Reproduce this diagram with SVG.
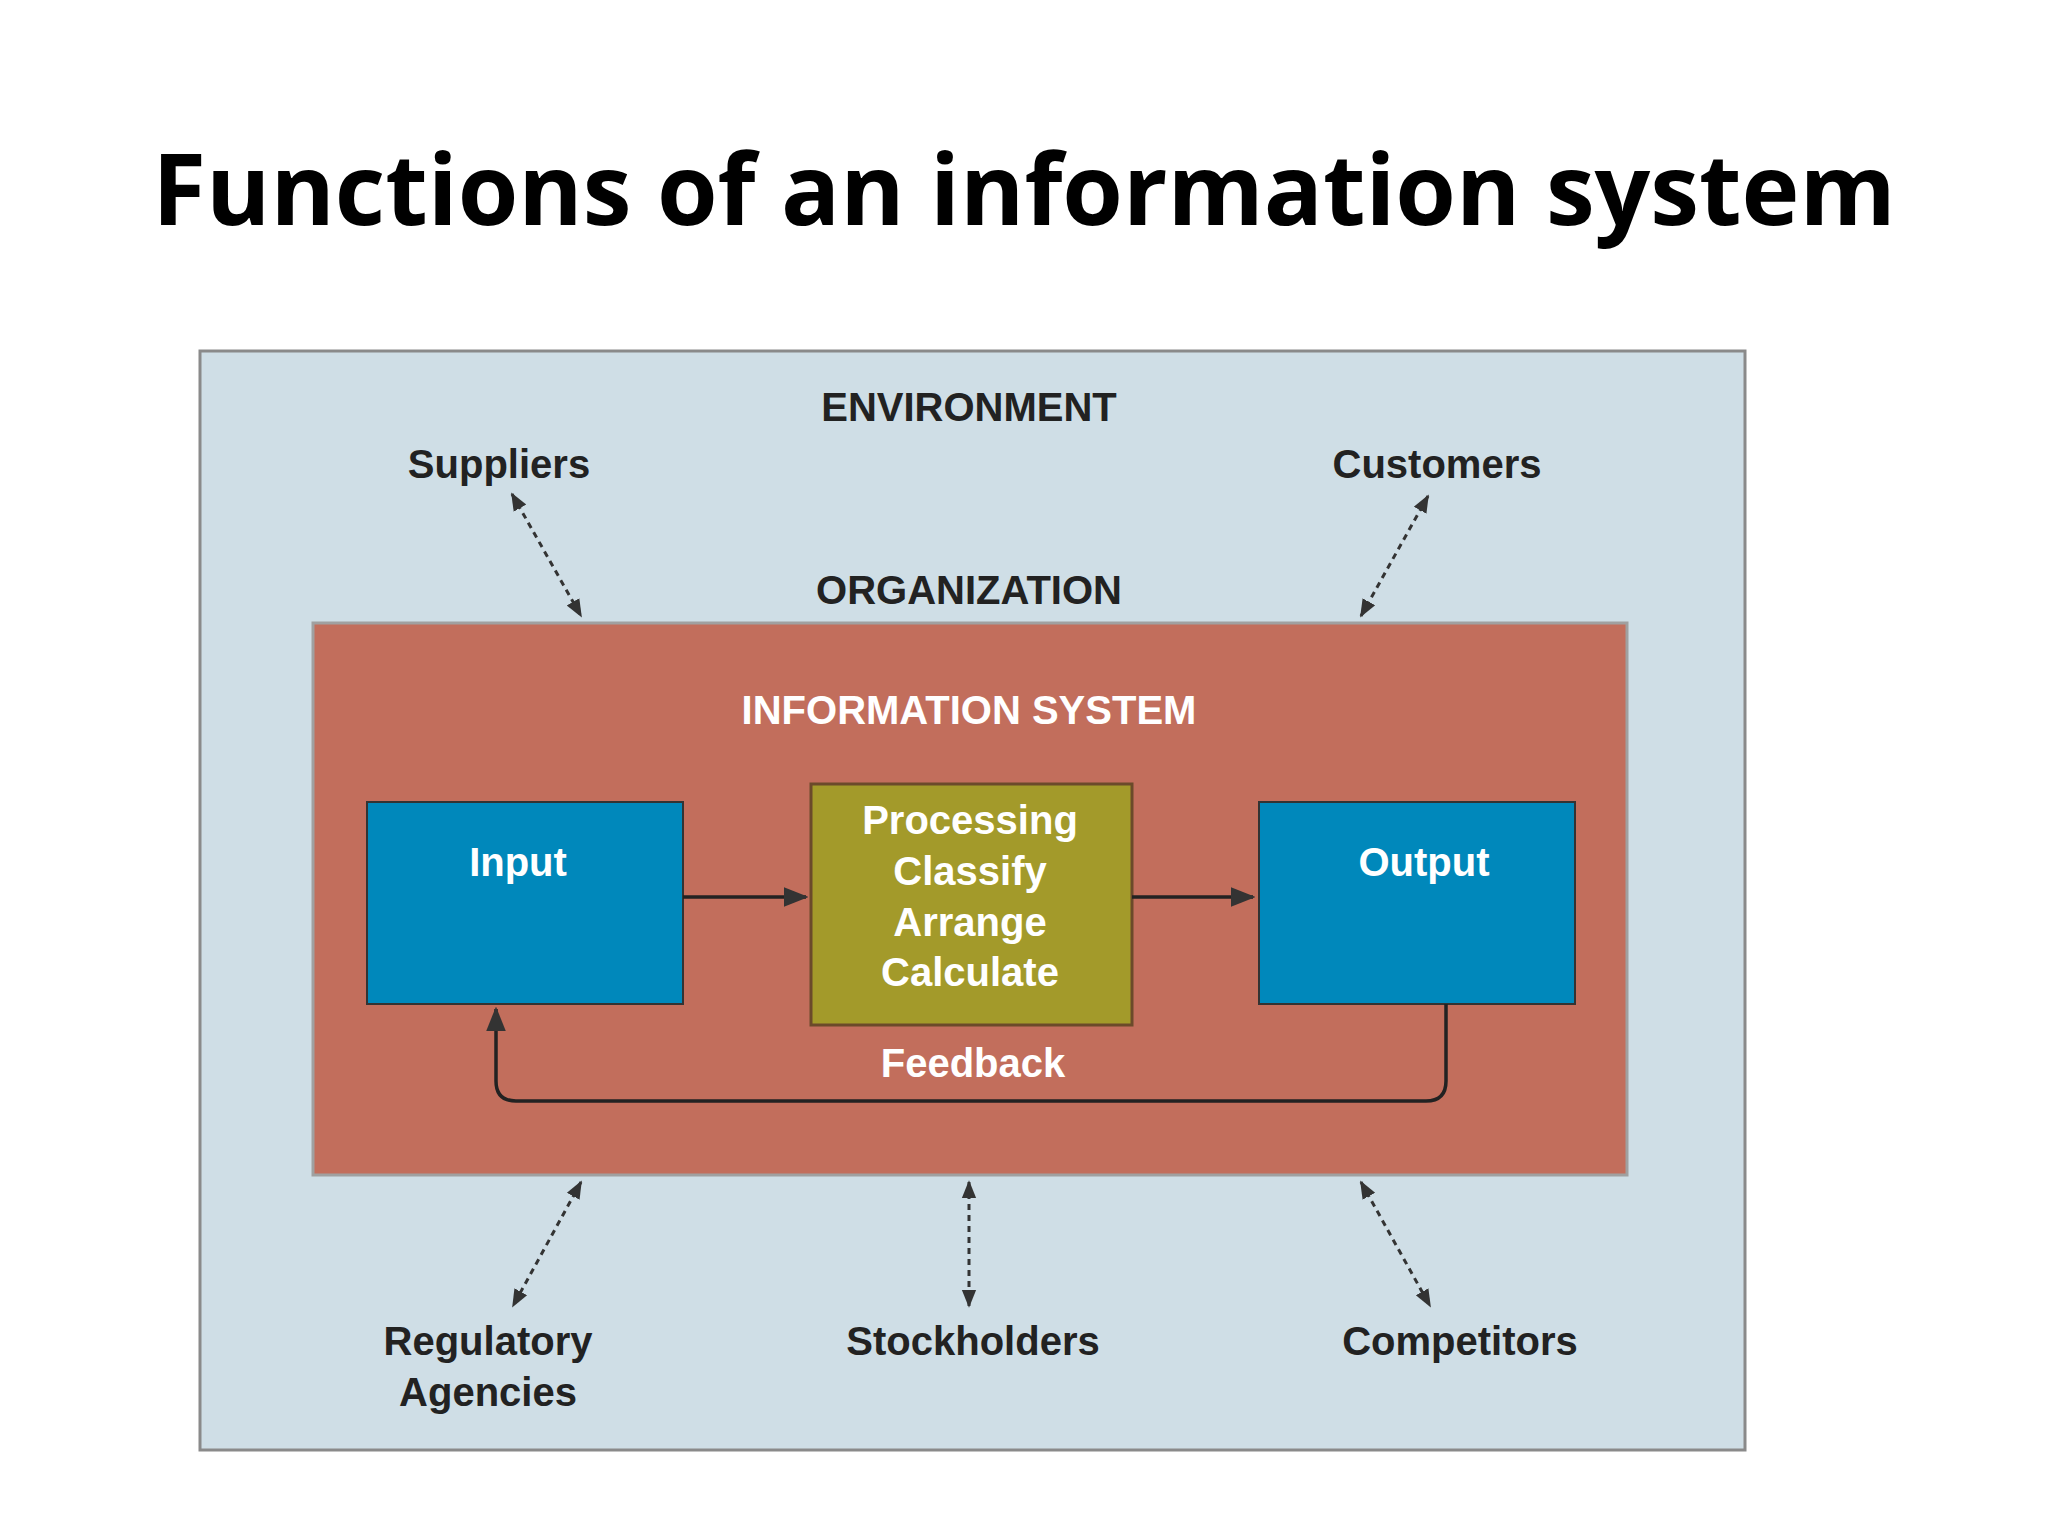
<svg xmlns="http://www.w3.org/2000/svg" width="2048" height="1536" viewBox="0 0 2048 1536">
<defs>
<style>
.t{font-family:"Liberation Sans",Arial,sans-serif;font-weight:bold;font-size:40px;text-anchor:middle;fill:#222}
.w{fill:#fff}
.d{stroke:#333;stroke-width:3;stroke-dasharray:6 5;fill:none;marker-start:url(#a);marker-end:url(#a)}
.s{stroke:#222;stroke-width:3.5;fill:none}
</style>
<marker id="a" viewBox="0 0 10 10" refX="9" refY="5" markerWidth="6" markerHeight="6" orient="auto-start-reverse"><path d="M0,1 L10,5 L0,9 z" fill="#333"/></marker>
<marker id="b" viewBox="0 0 10 10" refX="9" refY="5" markerWidth="7" markerHeight="7" orient="auto"><path d="M0,1 L10,5 L0,9 z" fill="#333"/></marker>
</defs>
<rect width="2048" height="1536" fill="#fff"/>
<text x="1024" y="225" font-family="'Open Sans','Noto Sans',sans-serif" font-weight="bold" font-size="98" text-anchor="middle" fill="#000">Functions of an information system</text>
<g id="environment"><rect x="200" y="351" width="1545" height="1099" fill="#cfdee6" stroke="#8a8a8a" stroke-width="3"/><text class="t" x="969" y="421">ENVIRONMENT</text></g>
<g id="organization"><text class="t" x="969" y="604">ORGANIZATION</text><rect x="313" y="623" width="1314" height="552" fill="#c26e5c" stroke="#a0a0a0" stroke-width="3"/><text class="t w" x="969" y="724">INFORMATION SYSTEM</text></g>
<g id="input"><rect x="367" y="802" width="316" height="202" fill="#0088bb" stroke="#333" stroke-width="2"/><text class="t w" x="518" y="876">Input</text></g>
<g id="processing"><rect x="811" y="784" width="321" height="241" fill="#a39a2a" stroke="#6b4a2a" stroke-width="3"/><text class="t w" x="970" y="834">Processing</text><text class="t w" x="970" y="885">Classify</text><text class="t w" x="970" y="936">Arrange</text><text class="t w" x="970" y="986">Calculate</text></g>
<g id="output"><rect x="1259" y="802" width="316" height="202" fill="#0088bb" stroke="#333" stroke-width="2"/><text class="t w" x="1424" y="876">Output</text></g>
<g id="labels">
<text class="t" x="499" y="478">Suppliers</text>
<text class="t" x="1437" y="478">Customers</text>
<text class="t w" x="973" y="1077">Feedback</text>
<text class="t" x="488" y="1355">Regulatory</text><text class="t" x="488" y="1406">Agencies</text>
<text class="t" x="973" y="1355">Stockholders</text>
<text class="t" x="1460" y="1355">Competitors</text>
</g>
<g id="connectors">
<path class="d" d="M512,494 L581,616"/>
<path class="d" d="M1428,496 L1361,616"/>
<path class="d" d="M581,1182 L513,1306"/>
<path class="d" d="M969,1182 L969,1306"/>
<path class="d" d="M1361,1182 L1430,1306"/>
<path class="s" marker-end="url(#b)" d="M683,897 L806,897"/>
<path class="s" marker-end="url(#b)" d="M1132,897 L1253,897"/>
<path class="s" marker-end="url(#b)" d="M1446,1004 L1446,1081 Q1446,1101 1426,1101 L516,1101 Q496,1101 496,1081 L496,1009"/>
</g>
</svg>
